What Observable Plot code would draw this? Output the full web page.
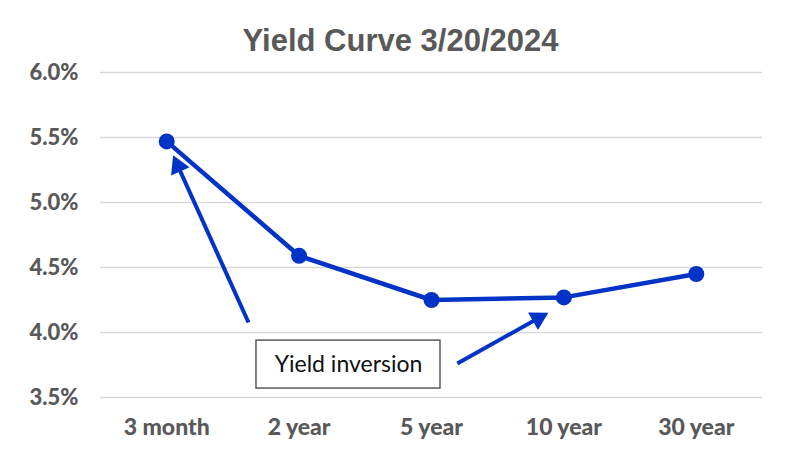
<!DOCTYPE html>
<html>
<head>
<meta charset="utf-8">
<script src="https://cdn.jsdelivr.net/npm/d3@7"></script>
<script src="https://cdn.jsdelivr.net/npm/@observablehq/plot@0.6"></script>
<style>
  html, body { margin: 0; padding: 0; background: #fff; }
  #chart { width: 800px; height: 450px; }
</style>
</head>
<body>
<div id="chart"></div>
<script>
const title = "Yield Curve 3/20/2024";
const categories = ["3 month", "2 year", "5 year", "10 year", "30 year"];
const yields = [5.47, 4.59, 4.25, 4.27, 4.45];
const yTicks = [3.5, 4.0, 4.5, 5.0, 5.5, 6.0];

// annotation arrows (x in category-index units, y in percent)
const arrowTailX = [0.618, 2.195];
const arrowTailY = [4.077, 3.762];
const arrowHeadX = [0.066, 2.845];
const arrowHeadY = [5.323, 4.131];

// annotation box
const boxLabel = "Yield inversion";
const boxX1 = [0.678], boxX2 = [2.068], boxY1 = [3.569], boxY2 = [3.938];

const BLUE = "#0033c6";
const GRAY = "#595959";

const points = categories.map((c, i) => ({ i, c, v: yields[i] }));
const arrows = arrowTailX.map((_, k) => ({
  x1: arrowTailX[k], y1: arrowTailY[k], x2: arrowHeadX[k], y2: arrowHeadY[k]
}));
const box = [{ x1: boxX1[0], x2: boxX2[0], y1: boxY1[0], y2: boxY2[0], label: boxLabel }];

const baseOpts = {
  width: 800,
  height: 450,
  marginTop: 72,
  marginBottom: 53,
  marginLeft: 100,
  marginRight: 38,
  style: { fontFamily: "Lato, sans-serif", background: "#fff", overflow: "visible" },
  x: { type: "linear", domain: [-0.5, 4.5] },
  y: { domain: [3.5, 6.0] }
};

// first pass: obtain scales for arrow head orientation
const probe = Plot.plot({ ...baseOpts, marks: [Plot.dot(points, { x: "i", y: "v" })] });
const sx = probe.scale("x"), sy = probe.scale("y");
const heads = arrows.map(a => {
  const px1 = sx.apply(a.x1), py1 = sy.apply(a.y1);
  const px2 = sx.apply(a.x2), py2 = sy.apply(a.y2);
  const dx = px2 - px1, dy = py2 - py1;
  const len = Math.hypot(dx, dy);
  const ux = dx / len, uy = dy / len;
  const back = 6; // triangle centroid behind the tip
  const hx = px2 - ux * back, hy = py2 - uy * back;
  const lx = px2 - ux * 10, ly = py2 - uy * 10;
  return {
    hx: sx.invert(hx), hy: sy.invert(hy),
    lx: sx.invert(lx), ly: sy.invert(ly),
    rot: Math.atan2(dx, -dy) * 180 / Math.PI
  };
});
const shafts = arrows.map((a, k) => ({ x1: a.x1, y1: a.y1, x2: heads[k].lx, y2: heads[k].ly }));

const chart = Plot.plot({
  ...baseOpts,
  marks: [
    Plot.gridY(yTicks, { stroke: "#d9d9d9", strokeOpacity: 1, strokeWidth: 1.5 }),
    Plot.axisY({
      ticks: yTicks, tickFormat: d => d.toFixed(1) + "%", tickSize: 0, tickPadding: 22,
      fontSize: 22, fontWeight: 900, color: GRAY, label: null
    }),
    Plot.axisX({
      ticks: [0, 1, 2, 3, 4], tickFormat: i => categories[i], tickSize: 0, tickPadding: 21,
      fontSize: 23, fontWeight: 900, color: GRAY, label: null
    }),
    Plot.line(points, { x: "i", y: "v", stroke: BLUE, strokeWidth: 4.5 }),
    Plot.dot(points, { x: "i", y: "v", r: 8, fill: BLUE, stroke: "none" }),
    Plot.link(shafts, { x1: "x1", y1: "y1", x2: "x2", y2: "y2", stroke: BLUE, strokeWidth: 4 }),
    Plot.dot(heads, { x: "hx", y: "hy", symbol: "triangle", r: 7.5, fill: BLUE, stroke: "none", rotate: "rot" }),
    Plot.rect(box, { x1: "x1", x2: "x2", y1: "y1", y2: "y2", fill: "#fff", stroke: "#404040", strokeWidth: 1.3 }),
    Plot.text(box, {
      x: d => (d.x1 + d.x2) / 2, y: d => (d.y1 + d.y2) / 2, text: "label",
      fontSize: 23, fill: "#111", fontFamily: "Lato, sans-serif"
    }),
    Plot.text([title], {
      frameAnchor: "top", dx: -31, dy: -44, text: d => d,
      fontSize: 31, fontWeight: "bold", fill: GRAY, fontFamily: "Liberation Sans, Arial, sans-serif"
    })
  ]
});
document.getElementById("chart").appendChild(chart);
</script>
</body>
</html>
